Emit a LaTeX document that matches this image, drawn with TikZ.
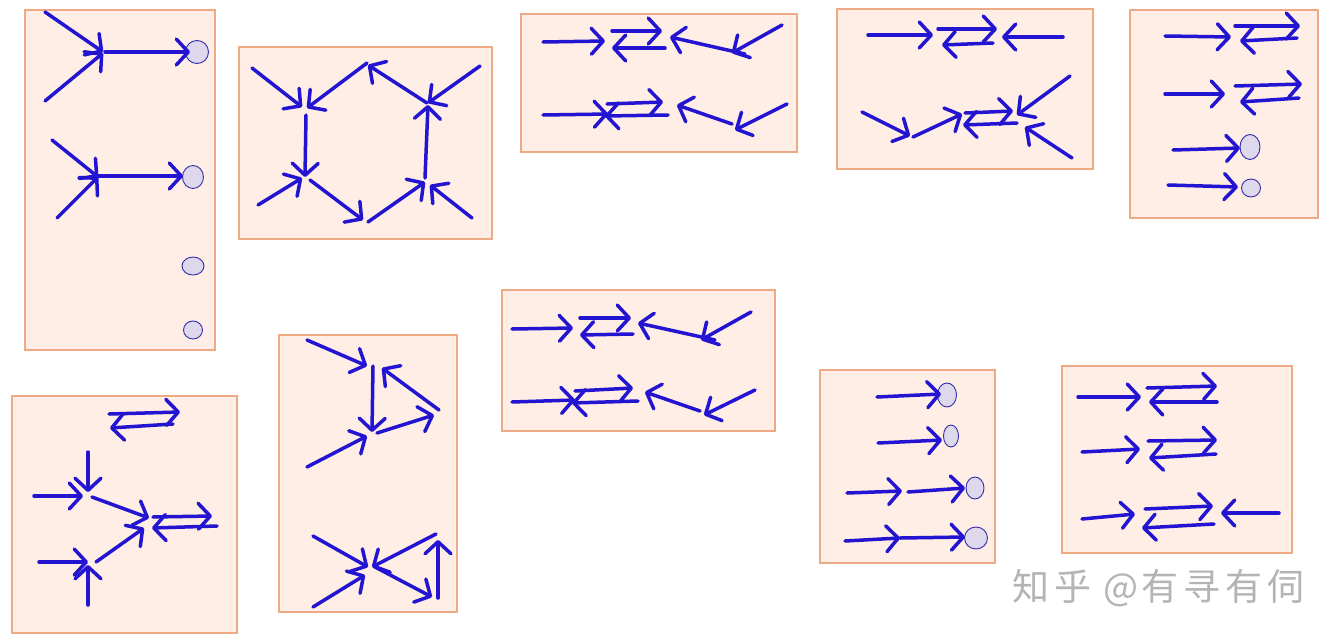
\documentclass[tikz,border=0pt]{standalone}
\usepackage{fontspec}
\newfontfamily\cjk{Noto Sans CJK SC}
\usetikzlibrary{arrows.meta}
\definecolor{arblue}{RGB}{34,20,208}
\definecolor{boxfill}{RGB}{254,238,229}
\definecolor{boxline}{RGB}{238,170,132}
\definecolor{ellfill}{RGB}{221,216,236}
\definecolor{elline}{RGB}{52,44,170}
\definecolor{wmgray}{RGB}{180,180,180}
\begin{document}
\begin{tikzpicture}[x=1pt,y=-1pt,
  ar/.style={draw=arblue, line width=3.5pt, line cap=round,
    -{Straight Barb[length=12pt,width=26pt,line width=3.5pt,round]}},
  panel/.style={draw=boxline, fill=boxfill, line width=1.2pt},
  ell/.style={draw=elline, fill=ellfill, line width=0.9pt}]
\useasboundingbox (0,0) rectangle (1336,643);
\fill[white] (0,0) rectangle (1336,643);

% ---------- panel 1 ----------
\draw[panel] (25,10) rectangle (215,350);
\draw[ell] (197,52) ellipse [x radius=11.5pt, y radius=11.5pt];
\draw[ell] (193,177) ellipse [x radius=10.5pt, y radius=11.5pt];
\draw[ell] (193,266) ellipse [x radius=11pt, y radius=9pt];
\draw[ell] (193,330) ellipse [x radius=9.5pt, y radius=9pt];
\draw[ar] (45,12) -- (103,52);
\draw[ar] (45,101) -- (103,53);
\draw[ar] (105,52) -- (190,52);
\draw[ar] (52,140) -- (98,177);
\draw[ar] (57,218) -- (98,177);
\draw[ar] (98,176) -- (183,176);

% ---------- panel 2 ----------
\draw[panel] (239,47) rectangle (492,239);
\draw[ar] (252,68) -- (302,107);
\draw[ar] (367,63) -- (307,108);
\draw[ar] (306,115) -- (305,177);
\draw[ar] (258,205) -- (302,178);
\draw[ar] (310,180) -- (363,220);
\draw[ar] (368,222) -- (425,182);
\draw[ar] (472,218) -- (430,185);
\draw[ar] (425,178) -- (428,105);
\draw[ar] (480,66) -- (428,103);
\draw[ar] (427,103) -- (368,65);

% ---------- panel 3 ----------
\draw[panel] (521,14) rectangle (797,152);
\draw[ar] (543,42) -- (605,41);
\draw[ar] (612,31) -- (662,31);
\draw[ar] (665,48) -- (612,48);
\draw[ar] (745,54) -- (670,37);
\draw[ar] (782,25) -- (732,53);
\draw[ar] (543,115) -- (608,114);
\draw[ar] (607,104) -- (663,102);
\draw[ar] (668,115) -- (605,116);
\draw[ar] (732,124) -- (677,105);
\draw[ar] (787,104) -- (735,130);

% ---------- panel 4 ----------
\draw[panel] (837,9) rectangle (1093,169);
\draw[ar] (868,35) -- (933,35);
\draw[ar] (938,29) -- (997,29);
\draw[ar] (993,43) -- (942,45);
\draw[ar] (1063,37) -- (1002,37);
\draw[ar] (862,112) -- (910,136);
\draw[ar] (913,137) -- (962,114);
\draw[ar] (965,113) -- (1013,111);
\draw[ar] (1017,123) -- (963,125);
\draw[ar] (1070,76) -- (1017,115);
\draw[ar] (1072,158) -- (1025,127);

% ---------- panel 5 ----------
\draw[panel] (1130,10) rectangle (1318,218);
\draw[ell] (1250,147) ellipse [x radius=10pt, y radius=12.5pt];
\draw[ell] (1251,188) ellipse [x radius=9.5pt, y radius=9pt];
\draw[ar] (1165,36) -- (1231,37);
\draw[ar] (1235,26) -- (1300,26);
\draw[ar] (1297,38) -- (1240,41);
\draw[ar] (1165,94) -- (1225,94);
\draw[ar] (1235,86) -- (1302,84);
\draw[ar] (1299,98) -- (1240,102);
\draw[ar] (1173,150) -- (1240,148);
\draw[ar] (1168,185) -- (1238,187);

% ---------- panel 6 ----------
\draw[panel] (12,396) rectangle (237,633);
\draw[ar] (109,414) -- (180,412);
\draw[ar] (173,424) -- (110,428);
\draw[ar] (88,452) -- (88,492);
\draw[ar] (34,496) -- (83,496);
\draw[ar] (92,497) -- (149,518);
\draw[ar] (153,517) -- (212,516);
\draw[ar] (217,526) -- (152,528);
\draw[ar] (96,562) -- (144,528);
\draw[ar] (39,562) -- (88,562);
\draw[ar] (88,605) -- (88,565);

% ---------- panel 7 ----------
\draw[panel] (279,335) rectangle (457,612);
\draw[ar] (307,340) -- (367,366);
\draw[ar] (373,366) -- (372,432);
\draw[ar] (307,467) -- (367,436);
\draw[ar] (377,433) -- (434,415);
\draw[ar] (439,410) -- (382,368);
\draw[ar] (313,536) -- (368,567);
\draw[ar] (313,607) -- (365,575);
\draw[ar] (436,534) -- (372,567);
\draw[ar] (375,567) -- (432,597);
\draw[ar] (438,598) -- (438,540);

% ---------- panel 8 ----------
\draw[panel] (502,290) rectangle (775,431);
\draw[ar] (512,329) -- (573,328);
\draw[ar] (580,318) -- (631,318);
\draw[ar] (633,334) -- (580,335);
\draw[ar] (715,340) -- (638,323);
\draw[ar] (751,312) -- (701,340);
\draw[ar] (512,402) -- (575,400);
\draw[ar] (575,391) -- (633,388);
\draw[ar] (638,401) -- (572,403);
\draw[ar] (700,411) -- (645,392);
\draw[ar] (755,390) -- (704,415);

% ---------- panel 9 ----------
\draw[panel] (820,370) rectangle (995,563);
\draw[ell] (947,395) ellipse [x radius=9.5pt, y radius=12pt];
\draw[ell] (951,436) ellipse [x radius=7.5pt, y radius=11pt];
\draw[ell] (975,488) ellipse [x radius=9pt, y radius=11pt];
\draw[ell] (976,538) ellipse [x radius=11.5pt, y radius=11pt];
\draw[ar] (877,397) -- (941,394);
\draw[ar] (878,443) -- (942,440);
\draw[ar] (847,493) -- (902,491);
\draw[ar] (908,492) -- (965,488);
\draw[ar] (845,541) -- (900,538);
\draw[ar] (900,538) -- (965,537);

% ---------- panel 10 ----------
\draw[panel] (1062,366) rectangle (1292,553);
\draw[ar] (1078,397) -- (1141,397);
\draw[ar] (1147,388) -- (1217,386);
\draw[ar] (1217,402) -- (1149,402);
\draw[ar] (1082,452) -- (1140,449);
\draw[ar] (1148,441) -- (1217,440);
\draw[ar] (1216,454) -- (1149,458);
\draw[ar] (1082,519) -- (1135,514);
\draw[ar] (1145,509) -- (1213,506);
\draw[ar] (1214,524) -- (1142,528);
\draw[ar] (1279,513) -- (1221,513);

% ---------- watermark ----------
\node[anchor=west, text=wmgray, font=\cjk\fontsize{37}{42}\selectfont, inner sep=0pt] (wm) at (1012,588)
  {知\hspace{5pt}乎\hspace{12pt}@\hspace{3pt}有\hspace{5pt}寻\hspace{5pt}有\hspace{5pt}伺};
\end{tikzpicture}
\end{document}
